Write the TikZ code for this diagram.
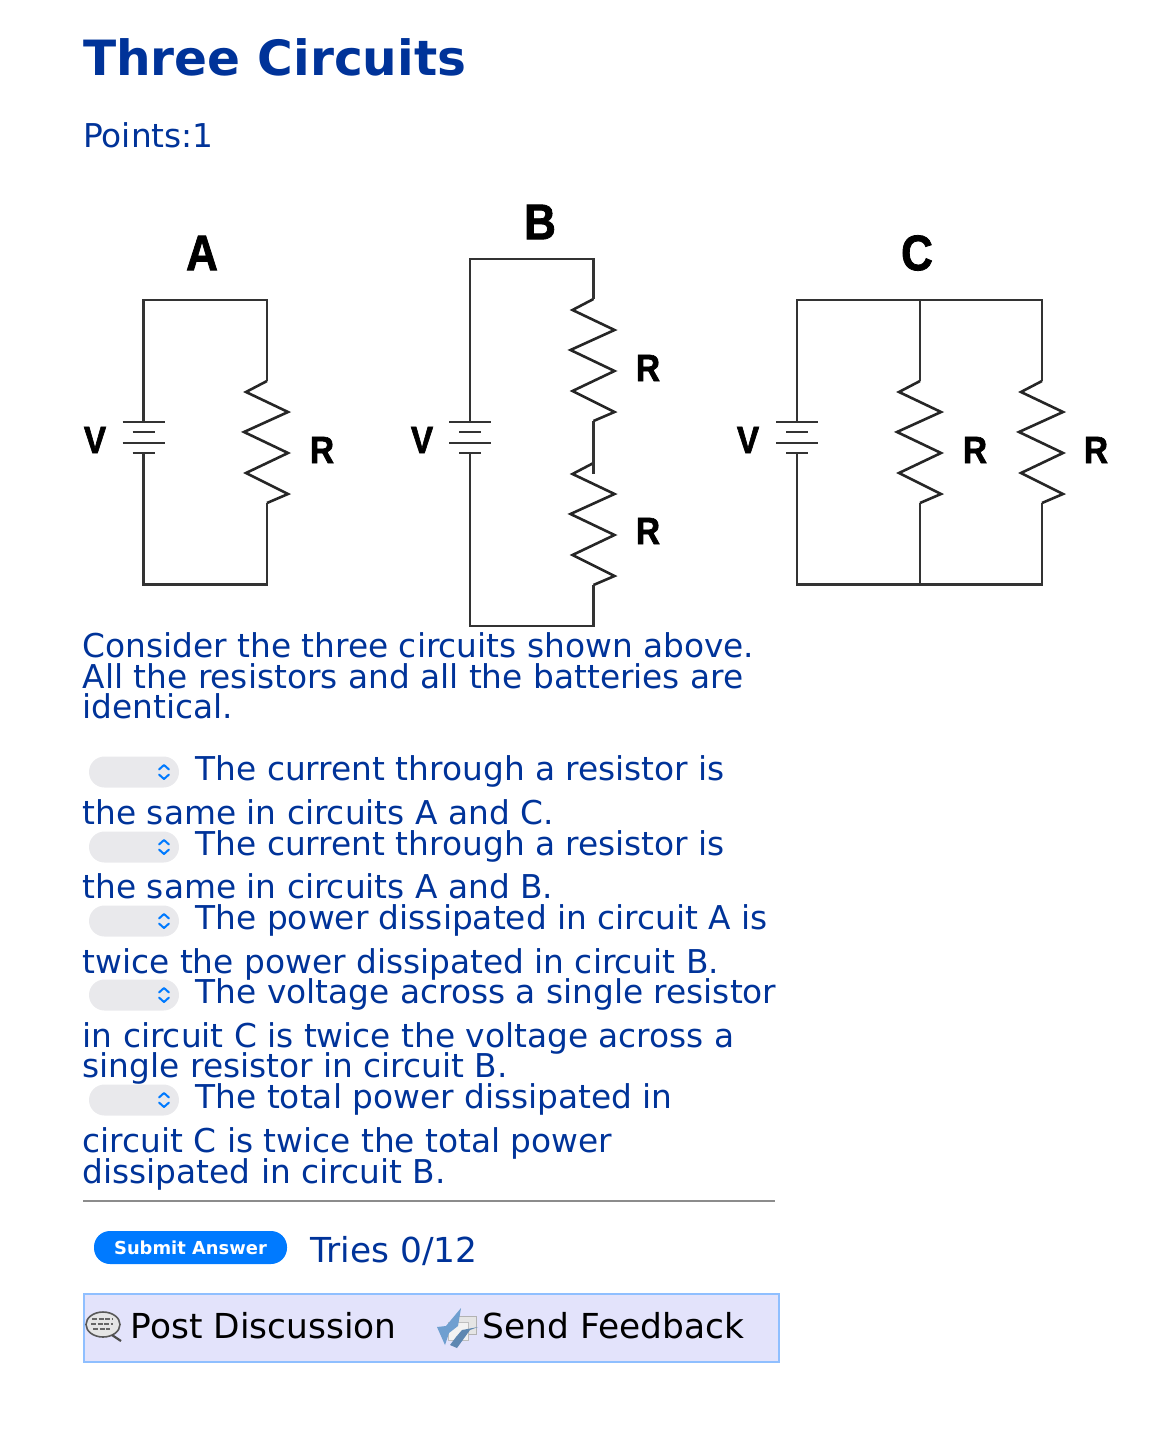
\documentclass[tikz,border=0pt]{standalone}
\usepackage{fontspec}
\setmainfont{DejaVu Sans}
\newfontfamily\labelfont[BoldFeatures={FakeBold=1.6,FakeStretch=0.88}]{Liberation Sans}
\usepackage{xcolor}
\definecolor{textblue}{HTML}{003399}
\definecolor{pillgray}{HTML}{E9E9EC}
\definecolor{btnblue}{HTML}{007AFF}
\definecolor{boxfill}{HTML}{E3E3FB}
\definecolor{boxline}{HTML}{8FBFFF}
\definecolor{wiregray}{HTML}{333333}
\definecolor{arrowblue}{HTML}{6F9FD0}
\tikzset{
  wire/.style={draw=wiregray,line width=2.2pt},
  zig/.style={draw=black!85,line width=2.6pt,line join=miter},
  txt/.style={anchor=base west,inner sep=0pt,text=textblue,font=\fontsize{32.8}{34}\selectfont},
  blk/.style={txt,text=black,font=\fontsize{34.4}{36}\selectfont},
  bigl/.style={inner sep=0pt,font=\labelfont\bfseries\fontsize{50}{50}\selectfont},
  smal/.style={inner sep=0pt,font=\labelfont\bfseries\fontsize{38}{38}\selectfont},
  pill/.style={fill=pillgray,rounded corners=15.5pt},
  pics/resistor/.style={code={
    \coordinate (-top) at (0,0);
    \coordinate (-bot) at (0,122);
    \draw[zig] (-top) -- ++(-21,11) -- ++(42,20) -- ++(-44,20) -- ++(44,21) -- ++(-42,20) -- ++(42,21) -- (-bot);
  }},
  pics/battery/.style={code={
    \coordinate (-top) at (0,0);
    \coordinate (-bot) at (0,31);
    \draw[wire] (-21,0) -- (21,0);
    \draw[wire] (-11,10) -- (11,10);
    \draw[wire] (-21,21) -- (21,21);
    \draw[wire] (-11,31) -- (11,31);
  }},
  pics/chooser/.style={code={
    \fill[pill] (-75,-15.5) rectangle (15,15.5);
    \draw[btnblue,line width=2pt,line cap=round,line join=round] (-5,-2.5) -- (0,-7) -- (5,-2.5);
    \draw[btnblue,line width=2pt,line cap=round,line join=round] (-5,2.5) -- (0,7) -- (5,2.5);
  }}
}
\begin{document}
\begin{tikzpicture}[x=1pt,y=-1pt]
\useasboundingbox (0,0) rectangle (1170,1431);

\node [txt,font=\bfseries\fontsize{48.6}{50}\selectfont] (title) at (83,76) {Three Circuits};
\node [txt] (points) at (83,148) {Points:1};

% circuit A
\node [bigl] (la) at (202,253) {A};
\pic (ba) at (143.5,422) {battery};
\pic (ra) at (267,381) {resistor};
\coordinate (a1) at (143.5,300);
\coordinate (a2) at (267,300);
\coordinate (a3) at (267,584.5);
\coordinate (a4) at (143.5,584.5);
\draw [wire] (ba-top) -- (a1) -- (a2) -- (ra-top);
\draw [wire] (ra-bot) -- (a3) -- (a4) -- (ba-bot);
\node [smal] (va) at (95,440) {V};
\node [smal] (ta) at (322,450) {R};

% circuit B
\node [bigl] (lb) at (540,222) {B};
\pic (bb) at (470,422) {battery};
\pic (rb) at (593.5,299) {resistor};
\pic (rc) at (593.5,463) {resistor};
\coordinate (b1) at (470,259);
\coordinate (b2) at (593.5,259);
\coordinate (b3) at (593.5,626);
\coordinate (b4) at (470,626);
\coordinate (b5) at (593.5,474);
\draw [wire] (bb-top) -- (b1) -- (b2) -- (rb-top);
\draw [wire] (rb-bot) -- (b5);
\draw [wire] (rc-bot) -- (b3) -- (b4) -- (bb-bot);
\node [smal] (vb) at (422,440) {V};
\node [smal] (tb) at (648,368) {R};
\node [smal] (tc) at (648,531) {R};

% circuit C
\node [bigl] (lc) at (917,253) {C};
\pic (bc) at (797,422) {battery};
\pic (rd) at (920,381) {resistor};
\pic (re) at (1042,381) {resistor};
\coordinate (c1) at (797,300);
\coordinate (c2) at (920,300);
\coordinate (c3) at (1042,300);
\coordinate (c4) at (1042,584.5);
\coordinate (c5) at (920,584.5);
\coordinate (c6) at (797,584.5);
\draw [wire] (bc-top) -- (c1) -- (c2) -- (c3) -- (re-top);
\draw [wire] (c2) -- (rd-top);
\draw [wire] (re-bot) -- (c4) -- (c5) -- (c6) -- (bc-bot);
\draw [wire] (rd-bot) -- (c5);
\node [smal] (vc) at (748,440) {V};
\node [smal] (td) at (975,450) {R};
\node [smal] (te) at (1096,450) {R};

% text
\node [txt] (p1) at (82.5,657) {Consider the three circuits shown above.};
\node [txt] (p2) at (82.5,688) {All the resistors and all the batteries are};
\node [txt] (p3) at (82.5,718.5) {identical.};

\pic (s1) at (164,772) {chooser};
\node [txt] (q1) at (195.5,780.5) {The current through a resistor is};
\node [txt] (q2) at (82.5,824.5) {the same in circuits A and C.};
\pic (s2) at (164,847) {chooser};
\node [txt] (q3) at (195.5,855) {The current through a resistor is};
\node [txt] (q4) at (82.5,898.5) {the same in circuits A and B.};
\pic (s3) at (164,921) {chooser};
\node [txt] (q5) at (195.5,929) {The power dissipated in circuit A is};
\node [txt] (q6) at (82.5,973) {twice the power dissipated in circuit B.};
\pic (s4) at (164,995) {chooser};
\node [txt] (q7) at (195.5,1003.5) {The voltage across a single resistor};
\node [txt] (q8) at (82.5,1047) {in circuit C is twice the voltage across a};
\node [txt] (q9) at (82.5,1077.5) {single resistor in circuit B.};
\pic (s5) at (164,1100) {chooser};
\node [txt] (q10) at (195.5,1108.5) {The total power dissipated in};
\node [txt] (q11) at (82.5,1152) {circuit C is twice the total power};
\node [txt] (q12) at (82.5,1183) {dissipated in circuit B.};

\draw [black!45,line width=2pt] (83,1201) -- (775,1201);

% buttons
\node [fill=btnblue,text=white,rounded corners=16pt,minimum width=193pt,minimum height=33pt,inner sep=0pt,
  font=\bfseries\fontsize{17.9}{20}\selectfont] (submit) at (190.5,1247.5) {Submit Answer};
\node [blk,text=textblue] (tries) at (310.5,1262.5) {Tries 0/12};

\node [fill=boxfill,draw=boxline,line width=2pt,minimum width=695pt,minimum height=68pt,inner sep=0pt] (bar) at (431.5,1328) {};
\node [blk] (post) at (130.5,1338.5) {Post Discussion};
\node [blk] (send) at (482.5,1338.5) {Send Feedback};

% bubble icon
\draw [fill=white!90!black,draw=black!65,line width=1.6pt] (103,1324.5) ellipse (17 and 12.5);
\draw [draw=black!70,line width=2.2pt] (112,1335) -- (121,1341);
\foreach \yy/\xa/\xb in {1319/92/112,1324/91/113,1329/93/110}
  \draw [black!60,line width=1.6pt,dash pattern=on 5pt off 1.5pt] (\xa,\yy) -- (\xb,\yy);

% feedback icon
\fill [black!10,draw=black!30,line width=.8pt] (456,1316) rectangle (476,1334);
\fill [black!5,draw=black!25,line width=.8pt] (448,1322) rectangle (468,1340);
\fill [arrowblue] (437,1327) -- (446,1326) -- (461,1308) -- (458,1326) -- (449,1333) -- (445,1345) -- cycle;
\fill [arrowblue!85!black] (478,1327) -- (470,1330) -- (457,1348) -- (450,1345) -- (456,1337) -- (462,1330) -- cycle;
\end{tikzpicture}
\end{document}
